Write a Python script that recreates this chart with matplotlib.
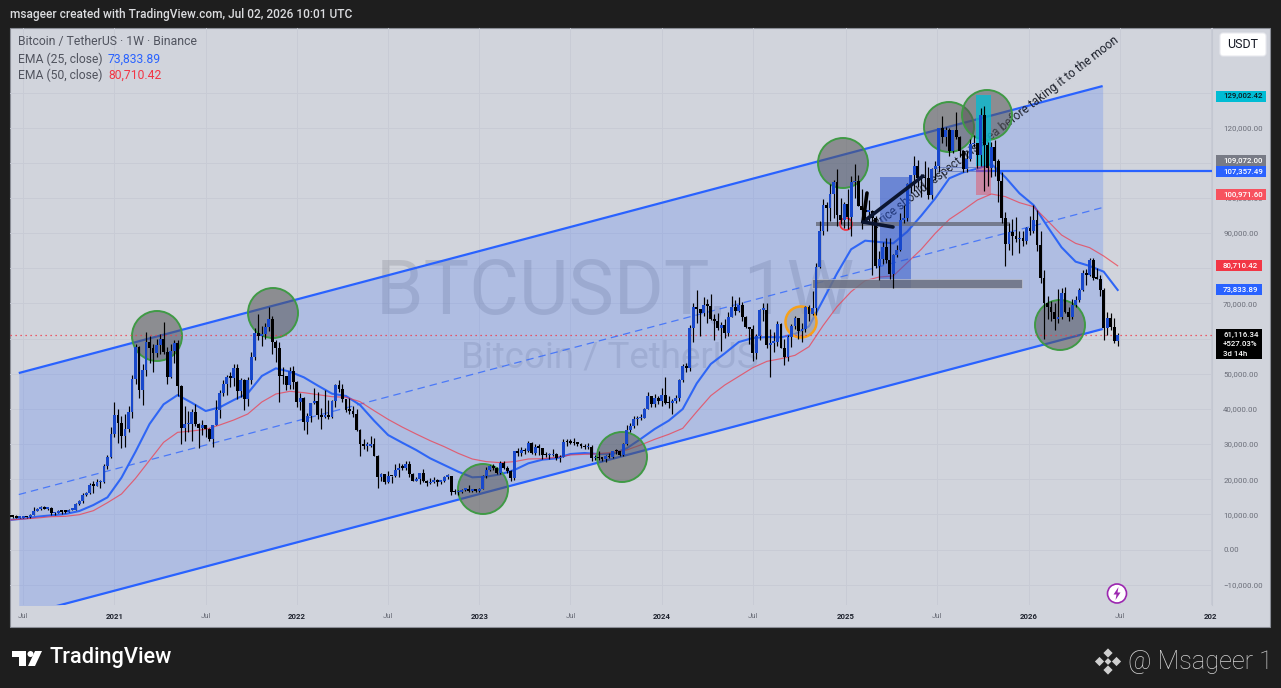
import numpy as np
import matplotlib
matplotlib.use("Agg")
import matplotlib.pyplot as plt
import matplotlib.dates as mdates
from matplotlib.patches import Circle, Rectangle, Polygon, FancyBboxPatch
from matplotlib.transforms import Affine2D

# weekly candles, Monday open
first_open = 9650
closes_2020 = [9380,9300,9000,9070,9230,9160,9930,11070,11640,11850,11650,11710,10250,10320,10930,10780,10660,11290,11360,13030,13800,15480,15960,18400,18190,19150,19170,23800,26270,33000]
highs_2020 = [10380,9590,9790,9300,9440,9350,10150,12100,11900,12480,12480,11800,12090,10800,11200,11180,10950,11450,11720,13350,14100,15960,16480,18950,19480,19920,19700,24290,26800,34800]
lows_2020 = [9030,8900,8830,8900,9050,9000,9100,9900,11000,11100,11600,11100,9800,9900,10250,10130,10400,10530,11200,11300,12800,13200,15100,15700,16190,18100,17600,19000,23000,26000]

closes_2021 = [38150,36000,32270,34260,39250,48600,57480,45240,50970,59000,57350,55800,58200,60000,56150,49100,56600,58800,46450,34700,35600,35800,39000,35600,34700,35300,34240,31500,35400,39800,44500,47000,49000,48800,51700,45000,48300,42700,48200,54900,61500,60800,61300,63200,65500,59000,57200,49400,49300,46800,50800,47700]
highs_2021 = [41950,40100,37850,38500,40950,49700,58350,58000,52640,61840,60600,58400,60000,61200,64850,57500,58400,59500,59600,46700,40800,39400,40000,41300,36000,36700,35100,34700,35500,42600,45300,48200,49700,50500,52900,52900,48850,48500,49000,56100,62900,67000,63700,64300,69000,66300,59500,59000,51900,49500,52000,52100]
lows_2021 = [32000,30400,28850,29240,33400,37300,47000,43000,41000,49300,53200,50400,54900,55500,55500,47000,48800,53000,43800,30000,31000,33400,31000,35000,28800,32700,32000,31000,29300,35300,37300,43800,43900,46200,46500,42800,43400,39600,40750,47100,53900,59500,57800,59800,62300,55600,53250,42000,47000,45500,45600,45700]

closes_2022 = [41860,43070,36250,37900,41570,42190,38350,37700,38400,37780,42230,46800,45800,42750,39700,39450,38600,34050,30100,29440,29450,29900,26570,20550,21500,19300,20850,20800,22580,23300,23170,24300,21500,19550,19990,21800,19400,18800,19300,19440,19260,19570,20620,20920,16330,16280,16430,16970,17100,16780,16840,16620]
highs_2022 = [47900,44500,43500,38900,41700,45850,44700,40300,45400,42500,42400,47000,48200,47200,42400,43000,40800,40000,34250,31400,30700,32400,31800,26900,21900,21500,22400,21000,24300,24700,24250,25200,25200,21800,20500,21800,22800,19700,20400,20500,19950,19700,21000,21500,21000,17200,16800,17300,17400,18400,17000,16950]
lows_2022 = [40500,39650,34000,32900,36200,41500,37000,34300,37450,37200,37500,40500,44900,42100,39200,38500,37600,33700,26700,28700,28000,29300,26500,17600,19600,18600,19000,18900,20700,20700,22700,22700,20750,19500,19500,18500,19300,18100,18500,19000,18200,18700,19200,20050,15600,15800,15400,16000,16700,16300,16300,16300]

closes_2023 = [17130,20870,22700,23750,23320,21860,24640,23180,22430,20470,27980,27490,28170,27940,30300,27590,29230,28900,26780,26750,26850,27100,25900,26340,30460,30450,30290,30230,30080,29350,29040,29300,26000,26000,25970,25830,26530,26250,27970,27900,26850,29990,34080,35040,37100,37380,37450,39960,43790,41370,43000,42280]
highs_2023 = [17400,21300,23370,23950,24250,23450,25250,25250,23880,22600,28000,28900,29200,28800,31000,30500,30000,29900,29000,27700,27500,28450,27400,26800,31400,31400,31500,31800,30400,30300,30050,30200,29700,26800,28100,26100,26800,27500,28000,28600,28000,30300,35280,35900,37970,37980,38450,40200,44700,43450,44300,43800]
lows_2023 = [16500,17100,20350,22300,22500,21500,21400,22800,21900,19570,19900,26600,26500,27150,27800,27100,26950,26950,25800,26300,25800,26500,25350,24800,26200,29500,29900,29700,29500,28900,28600,28700,25100,25350,25400,25300,24900,26000,26000,27200,26550,26500,29800,33400,34500,35500,36700,37500,39900,40500,40500,41300]

closes_2024 = [43930,41700,41580,42120,43000,48300,52100,51700,63100,68950,68390,67210,69650,69360,65660,64940,63100,64000,61480,66270,69120,67760,69650,66220,63210,62770,55850,60800,68150,68250,58160,58730,58970,64250,57300,54870,60550,63580,65890,62070,62850,69020,67000,68780,80400,90600,97900,97200,101100,104460,95180,93700,98360]
highs_2024 = [45900,49000,43600,42850,43900,48600,52800,52950,64000,70100,73800,68100,71700,71300,72800,66900,67200,64700,65500,67700,72000,71000,71900,70500,66500,63400,63800,61400,68400,70000,70000,62700,61800,65000,64500,59800,61000,64100,66500,66000,64500,69400,69500,73600,81500,93400,99800,98900,104000,105200,108350,99900,98900]
lows_2024 = [40750,41500,40300,38500,41800,42300,47700,50500,50900,59000,64500,60800,66400,64500,65300,59600,62400,56500,60200,60700,66300,66600,67600,65100,63000,58400,53500,54300,59600,65100,57300,49000,56100,58000,57200,52500,53600,57500,62600,59800,58900,62000,65000,66700,66800,80200,89400,90700,93500,94200,92100,92500,91500]

closes_2025 = [94500,104500,104750,97700,96460,96130,96250,94270,80700,82580,86080,82390,78370,83700,85200,93750,94300,104100,106450,109000,105700,105700,105600,100960,108350,109200,119800,117300,119400,113300,119300,117400,113500,108200,111100,115300,115600,112200,123500,115000,108600,114500,110600,104700,94300,86800,90400,89300,88200,88600,87800,91500]
highs_2025 = [102700,106400,109600,106450,102500,98800,99400,96500,95000,84800,87450,88700,88500,84000,86500,95700,97900,104400,106650,111980,110700,106800,110400,108900,108500,110500,120000,123200,120250,120000,119300,124500,117600,113600,113400,116700,117900,115600,125700,126200,115900,115900,116400,111000,107500,96000,93000,94000,94600,90500,90600,91800]
lows_2025 = [91200,89250,100100,97700,91200,94100,93500,78200,80000,76600,81100,81600,77000,74500,83100,85000,92900,93500,101500,102000,103100,100400,102700,99600,99600,105000,107500,115700,114700,112000,112700,116800,111700,107300,107300,110600,114400,108600,109000,102000,103500,106000,106300,98900,93000,80600,85300,83800,87600,84400,86400,86800]

closes_2026 = [90500,93700,86600,77150,70030,68900,67660,65480,66050,73070,67660,66050,69560,70980,73830,78570,78200,82360,77150,77000,73830,63100,65770,63200,59410,61116.34]
highs_2026 = [94800,97900,96500,90500,79500,72000,70800,70000,74000,74500,74700,69100,71200,72000,74500,79500,79700,82900,83000,80200,78000,74500,67500,67400,66000,61700]
lows_2026 = [89500,90000,85000,75700,60000,65700,65000,62500,64500,65600,67200,64900,65500,68900,70300,73500,75200,77800,76700,76900,72000,59500,61100,62500,58700,58000]

# EMA lines, read every 4th week plus the last bar
ema25 = [8400,8770,9340,9720,10100,10950,12660,14840,20440,27830,35700,41300,43950,41770,39400,40450,42530,44430,49360,51540,50590,48980,46610,44340,43670,41110,36650,32570,
         30400,28310,25940,24040,22140,20530,20720,21390,22620,24520,25560,25940,27170,27450,27170,27170,28780,31440,34280,36650,39970,47270,52770,55810,59030,60170,60450,60360,61310,63500,
         70980,78570,85400,87860,87480,87100,90420,94980,99910,105600,107300,108350,109670,105880,101330,98000,91840,85970,81890,80660,79040,73833.89]
ema50 = [8400,8680,8960,9340,9440,9910,11050,13320,15790,20250,25370,30490,33330,33710,34190,35420,36840,38550,41960,44240,45000,44620,44050,43480,43290,42060,39500,37030,
         34850,32860,30960,29260,27360,25750,25000,24700,25000,25750,25840,26220,26890,27080,27270,27650,28310,29730,31340,32760,34470,39210,43760,46800,49260,51730,53530,54290,55240,57700,
         63680,69090,73350,76480,77520,77810,81600,85400,89950,93930,96590,99430,101140,100380,98670,97540,93550,89470,87100,85870,83500,80710.42]

channel_dates = ["2020-06-27", "2026-05-30"]
channel_upper = [50200, 131850]
channel_lower = [-18930, 62730]

price_ticks = list(range(-10000, 130001, 10000))
# these sit wholly under the coloured price labels
hidden_ticks = [60000, 80000, 110000]
time_ticks = ["2020-07-06","2021-01-04","2021-07-05","2022-01-03","2022-07-04","2023-01-02","2023-07-03",
              "2024-01-01","2024-07-01","2025-01-02","2025-07-03","2026-01-03","2026-07-03","2027-01-01"]
time_labels = ["Jul","2021","Jul","2022","Jul","2023","Jul","2024","Jul","2025","Jul","2026","Jul","202"]

last_price = 61116.34
FONT = "Roboto"
BG = "#d1d4dc"
BLUE = "#2962ff"

closes = np.array(closes_2020 + closes_2021 + closes_2022 + closes_2023 + closes_2024 + closes_2025 + closes_2026, dtype=float)
highs = np.array(highs_2020 + highs_2021 + highs_2022 + highs_2023 + highs_2024 + highs_2025 + highs_2026, dtype=float)
lows = np.array(lows_2020 + lows_2021 + lows_2022 + lows_2023 + lows_2024 + lows_2025 + lows_2026, dtype=float)
opens = np.r_[first_open, closes[:-1]]
highs = np.maximum(highs, np.maximum(opens, closes))
lows = np.minimum(lows, np.minimum(opens, closes))
dates = mdates.date2num(np.datetime64("2020-06-08")) + 7.0 * np.arange(len(closes))

fig = plt.figure(figsize=(12.81, 6.88), dpi=100, facecolor="#1e1e1e")
# pixel coordinates of the picture, y going down, for the hand drawn markup
pix = Affine2D().scale(1, -1).translate(0, 688)

fig.add_artist(Rectangle((10, 28), 1260, 599, transform=pix, facecolor=BG, edgecolor="#8a8d96", linewidth=0.8, zorder=-1))

ax = fig.add_axes([10 / 1281, 1 - 605 / 688, 1202 / 1281, 577 / 688], facecolor="none")
for s in ax.spines.values():
    s.set_visible(False)
ax.spines["right"].set_visible(True)
ax.spines["right"].set_color("#c3c7d1")
ax.spines["right"].set_linewidth(0.8)

ax.set_yticks(price_ticks)
ax.set_yticklabels(["" if p in hidden_ticks else f"{p:,.2f}".replace("-", "\u2212") for p in price_ticks],
                   family=FONT, fontsize=5.7, color="#6a6d78")
ax.yaxis.tick_right()
ax.tick_params(axis="y", length=0, pad=8)
ax.set_xticks(mdates.date2num(np.array(time_ticks, dtype="datetime64[D]")))
ax.set_xticklabels(time_labels, family=FONT, fontsize=5.6, color="#6a6d78")
ax.tick_params(axis="x", length=0, pad=6)
for lab in ax.get_xticklabels():
    if lab.get_text() != "Jul":
        lab.set_color("#1e222d")
        lab.set_fontweight("bold")
ax.grid(True, color="#c8cbd5", linewidth=0.65, zorder=0.5)
ax.set_axisbelow(True)

# watermark
ax.text(615, 293, "BTCUSDT, 1W", transform=pix, family=FONT, fontsize=55, color="#787b86", alpha=0.26, ha="center", va="center", zorder=0.8)
ax.text(610, 358, "Bitcoin / TetherUS", transform=pix, family=FONT, fontsize=26.5, color="#787b86", alpha=0.22, ha="center", va="center", zorder=0.8)

# parallel channel
cx = mdates.date2num(np.array(channel_dates, dtype="datetime64[D]"))
cup = np.array(channel_upper, dtype=float)
clo = np.array(channel_lower, dtype=float)
ax.fill_between(cx, clo, cup, color=BLUE, alpha=0.2, linewidth=0, zorder=1)
ax.plot(cx, cup, color=BLUE, lw=1.6, zorder=1.5, solid_capstyle="butt")
ax.plot(cx, clo, color=BLUE, lw=1.6, zorder=1.5, solid_capstyle="butt")
ax.plot(cx, (cup + clo) / 2, color=BLUE, lw=0.9, ls=(0, (6, 4)), alpha=0.75, zorder=1.5)

# the note runs under the circles and candles
ax.text(875, 226, "Price should respect this area before taking it to the moon", transform=pix, family=FONT, fontsize=8.55,
        color="#1e222d", rotation=37.7, rotation_mode="anchor", ha="left", va="center", zorder=1.8)

# EMAs
ema_x = np.append(dates[::4][:len(ema25) - 1], dates[-1])
ax.plot(ema_x, ema25, color="#2f66f5", lw=1.5, zorder=2, solid_joinstyle="round")
ax.plot(ema_x, ema50, color="#f23645", lw=0.85, alpha=0.7, zorder=2, solid_joinstyle="round")

# markup shapes, below the candles
ax.add_patch(Rectangle((880, 177), 31, 111, transform=pix, facecolor="#2850c8", edgecolor="none", alpha=0.5, zorder=2.6))
ax.add_patch(Rectangle((812, 279), 210, 9, transform=pix, facecolor="#6b7080", edgecolor="#c9cdd8", linewidth=0.5, alpha=0.85, zorder=2.7))
ax.add_patch(Rectangle((816, 222), 194, 4, transform=pix, facecolor="#6b7080", edgecolor="none", alpha=0.85, zorder=2.7))
ax.add_patch(Rectangle((937, 167), 39, 4, transform=pix, facecolor="none", edgecolor="#7487c4", linewidth=0.7, zorder=2.7))
ax.plot([976, 1212], [171, 171], transform=pix, color=BLUE, lw=1.6, zorder=2.8, solid_capstyle="butt")

for px, py in [(157, 336), (273, 313), (483, 489), (622, 457), (843, 163), (949, 127), (987, 115), (1060, 325)]:
    ax.add_patch(Circle((px, py), 25, transform=pix, facecolor=(0.33, 0.33, 0.33, 0.55), edgecolor="#3f9a45", linewidth=1.4, zorder=3))
ax.add_patch(Circle((801, 322), 15.5, transform=pix, facecolor=(0.62, 0.62, 0.62, 0.6), edgecolor="#f7a11a", linewidth=1.8, zorder=3))
ax.add_patch(Circle((846, 224), 6, transform=pix, facecolor="none", edgecolor="#f23645", linewidth=1.3, zorder=3))

ax.add_patch(Rectangle((976, 95), 15, 71, transform=pix, facecolor="#00bcd4", edgecolor="none", alpha=0.75, zorder=3.2))
ax.add_patch(Rectangle((976, 166), 15, 29, transform=pix, facecolor="#f23645", edgecolor="none", alpha=0.4, zorder=3.2))

ax.axhline(last_price, color="#f23645", lw=0.9, ls=(0, (1, 3)), zorder=3.4)

# candles
up = closes >= opens
for mask, col in [(up, "#1848cc"), (~up, "#000000")]:
    ax.vlines(dates[mask], lows[mask], highs[mask], color="#000000", lw=0.85, zorder=4)
    ax.bar(dates[mask], np.maximum(np.abs(closes - opens)[mask], 450), bottom=np.minimum(opens, closes)[mask],
           width=5.7, color=col, linewidth=0, zorder=4.1)

# arrow drawn by hand on the chart
ax.plot([923, 863], [176, 222], transform=pix, color="#0b1530", lw=2.6, zorder=5, solid_capstyle="round")
ax.plot([867, 863], [193, 222], transform=pix, color="#000000", lw=2.6, zorder=5, solid_capstyle="round")
ax.plot([863, 893], [222, 227], transform=pix, color="#0b1530", lw=2.6, zorder=5, solid_capstyle="round")

# lightning badge
ax.add_patch(Circle((1117, 593.5), 9.5, transform=pix, facecolor="#ffffff", edgecolor="#9c27b0", linewidth=1.2, zorder=5))
ax.add_patch(Polygon([(1118.5, 587), (1113.5, 594.5), (1116.5, 594.5), (1115.5, 600), (1120.5, 592.5), (1117.5, 592.5)], transform=pix, facecolor="#9c27b0", edgecolor="none", zorder=6))

ax.set_xlim(18422.5, 18422.5 + 1202 / 0.5011)
ax.set_ylim((549.5 - 605) / 0.003515, (549.5 - 28) / 0.003515)


def price_y(p):
    return 549.5 - p * 0.003515


def price_label(value, bg, fg, width=50, y=None):
    if y is None:
        y = price_y(value)
    fig.add_artist(Rectangle((1216, y - 5.5), width, 11, transform=pix, facecolor=bg, edgecolor="none", zorder=5))
    fig.text(1223, y, f"{value:,.2f}", transform=pix, family=FONT, fontsize=5.7, fontweight="medium", color=fg, ha="left", va="center", zorder=6)


price_label(129002.42, "#00bcd4", "#0c1c22")
price_label(109072.00, "#787b86", "#ffffff", y=160.5)
price_label(107357.49, BLUE, "#ffffff", y=171.5)
price_label(100971.60, "#f7525f", "#ffffff")
price_label(80710.42, "#f23645", "#ffffff", 46)
price_label(73833.89, BLUE, "#ffffff", 46)

fig.add_artist(Rectangle((1216, 329), 46, 30, transform=pix, facecolor="#000000", edgecolor="none", zorder=5))
for y, s in [(334.5, "61,116.34"), (344, "+527.03%"), (353.5, "3d 14h")]:
    fig.text(1223, y, s, transform=pix, family=FONT, fontsize=5.7, fontweight="medium", color="#ffffff", ha="left", va="center", zorder=6)

# USDT button
fig.add_artist(FancyBboxPatch((1220, 33), 46, 23, boxstyle="round,pad=0,rounding_size=3", transform=pix, facecolor="#ffffff", edgecolor="#e8e9ee", linewidth=0.8, zorder=5))
fig.text(1243, 45, "USDT", transform=pix, family=FONT, fontsize=9, color="#131722", ha="center", va="center", zorder=6)

# header and legend
fig.text(10, 14.5, "msageer created with TradingView.com, Jul 02, 2026 10:01 UTC", transform=pix, family=FONT, fontsize=8.6, fontweight="medium", color="#dcdde0", va="center")
fig.text(18, 42, "Bitcoin / TetherUS \u00b7 1W \u00b7 Binance", transform=pix, family=FONT, fontsize=8.85, color="#50535e", va="center")
fig.text(18, 59, "EMA (25, close)", transform=pix, family=FONT, fontsize=8.7, color="#50535e", va="center")
fig.text(108, 59, "73,833.89", transform=pix, family=FONT, fontsize=8.7, color=BLUE, va="center")
fig.text(18, 75.5, "EMA (50, close)", transform=pix, family=FONT, fontsize=8.7, color="#50535e", va="center")
fig.text(108, 75.5, "80,710.42", transform=pix, family=FONT, fontsize=8.7, color="#f23645", va="center")

# footer, TradingView mark and author
fig.add_artist(Polygon([(12, 651), (26, 651), (26, 666), (19, 666), (19, 657), (12, 657)], transform=pix, facecolor="#ffffff", edgecolor="none"))
fig.add_artist(Circle((30.5, 654), 3, transform=pix, facecolor="#ffffff", edgecolor="none"))
fig.add_artist(Polygon([(35, 651), (42, 651), (35, 666), (28, 666)], transform=pix, facecolor="#ffffff", edgecolor="none"))
fig.text(49, 657.5, "TradingView", transform=pix, family=FONT, fontsize=15.7, fontweight="medium", color="#ffffff", va="center")
for dx, dy in [(0, 0), (-8.5, 0), (8.5, 0), (0, -8.5), (0, 8.5)]:
    r = 4.6 if dx or dy else 3.4
    fig.add_artist(Polygon([(1108 + dx - r, 661.5 + dy), (1108 + dx, 661.5 + dy - r), (1108 + dx + r, 661.5 + dy), (1108 + dx, 661.5 + dy + r)],
                           transform=pix, facecolor="#cfcfcf", edgecolor="none"))
fig.text(1128, 662, "@ Msageer 1", transform=pix, family=FONT, fontsize=18.2, fontweight="light", color="#d4d4d4", va="center")

fig.savefig("out.png", dpi=100, facecolor=fig.get_facecolor())
